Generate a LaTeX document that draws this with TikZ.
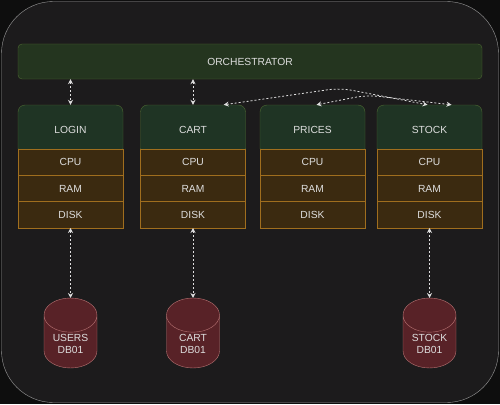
\documentclass[tikz,border=0pt]{standalone}
\usepackage{fontspec}
\setmainfont{Liberation Sans}
\usepackage{tikz}
\usetikzlibrary{arrows.meta, positioning, shapes.geometric}
\definecolor{bgdark}{HTML}{0E0E0E}
\definecolor{panel}{HTML}{1C1B1C}
\definecolor{panelline}{HTML}{9A9A9A}
\definecolor{orchfill}{HTML}{24351F}
\definecolor{headfill}{HTML}{1F3424}
\definecolor{greenline}{HTML}{4E6A33}
\definecolor{rowfill}{HTML}{3B2A10}
\definecolor{rowline}{HTML}{A06E1E}
\definecolor{dbfill}{HTML}{582227}
\definecolor{dbline}{HTML}{B97474}
\definecolor{txt}{HTML}{DEDEDE}
\tikzset{
	lbl/.style={text=txt, font=\fontsize{10.3}{12.5}\selectfont},
	orchbox/.style={lbl, draw=greenline, fill=orchfill, rounded corners=4pt, minimum width=464pt, minimum height=35pt},
	headbox/.style={lbl, draw=greenline, fill=headfill, rounded corners=7pt, minimum width=105pt, minimum height=50pt},
	rowbox/.style={lbl, draw=rowline, fill=rowfill, minimum width=105pt, minimum height=26.33pt, outer sep=0pt, line width=0.9pt},
	dbcyl/.style={lbl, cylinder, shape border rotate=90, aspect=0.9, inner sep=1pt, text width=36pt, draw=dbline, fill=dbfill, minimum width=53pt, minimum height=70pt, align=center, outer sep=0pt},
	link/.style={{Stealth[length=5pt,width=5pt]}-{Stealth[length=5pt,width=5pt]}, draw=txt, dash pattern=on 2pt off 2pt, line width=0.8pt},
}

\begin{document}
\begin{tikzpicture}[x=1pt, y=-1pt]
	\useasboundingbox (0,0) rectangle (500,404);
	\fill[bgdark] (0,0) rectangle (500,404);
	\draw[panelline, fill=panel, rounded corners=52pt] (1.5,1.5) rectangle (498.5,402.5);

	\node[orchbox] (orch) at (250,61.5) {ORCHESTRATOR};

	% services
	\foreach \nm/\txt/\cx in {login/LOGIN/70.5, cart/CART/193, prices/PRICES/312.5, stock/STOCK/429.5}{
		\node[headbox] (\nm) at (\cx,130) {\txt};
		\node[rowbox, anchor=north] (\nm-cpu) at (\cx,149) {CPU};
		\node[rowbox, below=0pt of \nm-cpu] (\nm-ram) {RAM};
		\node[rowbox, below=0pt of \nm-ram] (\nm-disk) {DISK};
	}

	% databases
	\node[dbcyl, below=70pt of login-disk] (usersdb) {USERS\\DB01};
	\node[dbcyl, below=70pt of cart-disk] (cartdb) {CART\\DB01};
	\node[dbcyl, below=70pt of stock-disk] (stockdb) {STOCK\\DB01};

	\draw[link] (orch.south -| login.north) -- (login.north);
	\draw[link] (orch.south -| cart.north) -- (cart.north);
	\draw[link] (login-disk.south) -- (usersdb.north);
	\draw[link] (cart-disk.south) -- (cartdb.north);
	\draw[link] (stock-disk.south) -- (stockdb.north);

	% service to service
	\coordinate (bendA) at (340,88);
	\coordinate (bendB) at (367,95);
	\draw[link, rounded corners=12pt] ([xshift=-22pt]cart.north east) -- (bendA) -- ([xshift=-2pt]stock.north);
	\draw[link, rounded corners=12pt] ([xshift=4pt]prices.north) -- (bendB) -- ([xshift=22pt]stock.north);
\end{tikzpicture}
\end{document}
